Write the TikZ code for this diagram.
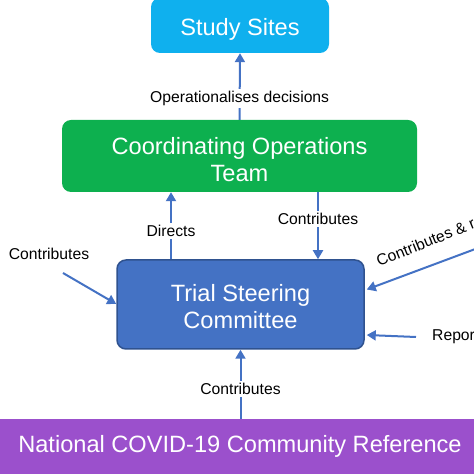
\documentclass[tikz,border=0pt]{standalone}
\usepackage{fontspec}
\setmainfont{Liberation Sans}
\usetikzlibrary{arrows.meta,calc}
\definecolor{ssblue}{HTML}{0FB0EE}
\definecolor{cotgreen}{HTML}{0DB04F}
\definecolor{tscblue}{HTML}{4472C4}
\definecolor{tscborder}{HTML}{2F528F}
\definecolor{ncpurple}{HTML}{9B50CC}
\definecolor{arrowblue}{HTML}{4472C4}
\tikzset{
  box/.style={rounded corners=9pt, inner sep=0pt},
  boxtext/.style={text=white, font=\fontsize{23.6}{27}\selectfont, align=center, inner sep=0pt},
  lbl/.style={fill=white, text=black, font=\fontsize{15.7}{18}\selectfont, inner sep=2pt},
  conn/.style={draw=arrowblue, line width=2pt, -{Triangle[width=10pt,length=9pt]}},
}
\begin{document}
\begin{tikzpicture}[x=1pt,y=1pt]
\useasboundingbox (0,0) rectangle (474,474);
\clip (0,0) rectangle (474,474);
% boxes
\node[box, fill=ssblue, minimum width=178pt, minimum height=55pt] (ss) at (240,448.5) {};
\node[boxtext, yshift=-3.5pt] (sstext) at (ss.center) {Study Sites};
\node[box, fill=cotgreen, minimum width=355pt, minimum height=72pt] (cot) at (239.5,318) {};
\node[boxtext, yshift=-4pt] (cottext) at (cot.center) {Coordinating Operations\\Team};
\node[box, fill=tscblue, draw=tscborder, line width=1.5pt, minimum width=247pt, minimum height=89pt] (tsc) at (240.5,169.5) {};
\node[boxtext, yshift=-2pt] (tsctext) at (tsc.center) {Trial Steering\\Committee};
\node[box, rounded corners=0pt, fill=ncpurple, minimum width=490pt, minimum height=62pt, anchor=north] (nc) at (237,55) {};
\node[boxtext, anchor=base] (nctext) at (240,21) {National COVID-19 Community Reference};
% helper coordinates
\coordinate (dx) at (171,0);
\coordinate (cx) at (318,0);
\coordinate (lstart) at (63,201);
\coordinate (rstart) at (478,226);
\coordinate (pstart) at (416,137);
% connectors
\draw[conn] (cot.north) -- (ss.south) node[lbl, pos=0.32] (l1) {Operationalises decisions};
\draw[conn] (tsc.north -| dx) -- (cot.south -| dx) node[lbl, pos=0.42] (l2) {Directs};
\draw[conn] (cot.south -| cx) -- (tsc.north -| cx) node[lbl, pos=0.4] (l3) {Contributes};
\draw[conn] (lstart) -- ($(tsc.west)+(0,0.5)$);
\node[lbl] (l4) at (49,220) {Contributes};
\draw[conn] (rstart) -- ($(tsc.east)+(2,15)$);
\node[lbl, fill=none, anchor=base west, inner sep=0pt, rotate=22] (l5) at (379,207) {Contributes \& r};
\draw[conn] (pstart) -- ($(tsc.east)+(2,-30.5)$);
\node[lbl, fill=none, anchor=west, inner sep=0pt] (l6) at (432,137) {Repor};
\draw[conn] (nc.north -| tsc.south) -- (tsc.south) node[lbl, pos=0.43] (l7) {Contributes};
\end{tikzpicture}
\end{document}
